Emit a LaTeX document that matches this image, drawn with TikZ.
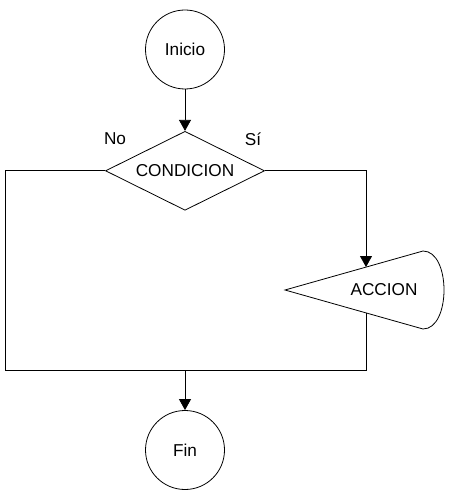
\documentclass[tikz,border=0pt]{standalone}
\usepackage{fontspec}
\setmainfont{Liberation Sans}
\usetikzlibrary{positioning, shapes.geometric, arrows.meta}

\begin{document}
\begin{tikzpicture}[x=1pt, y=-1pt, line width=0.8pt,
    every node/.style={font=\fontsize{17.2}{20}\selectfont},
    terminal/.style={circle, draw, minimum size=79pt, inner sep=0pt},
    decision/.style={diamond, draw, shape aspect=2, minimum width=159pt, minimum height=79pt, inner sep=0pt},
    arr/.style={-{Triangle[width=12pt, length=11pt]}}]
    \useasboundingbox (0,0) rectangle (454,494);
    % Circle: Inicio
    \node[terminal] (inicio) at (185,49.5) {Inicio};
    % Diamond: Condicion
    \node[decision, below=41.5pt of inicio] (cond) {CONDICION};
    \node (noLabel) at (115,139) {No};
    \node (siLabel) at (253,139) {Sí};
    % Action shape
    \draw (285,290) -- (423,251) .. controls (451,251) and (451,329) .. (423,329) -- cycle;
    \node (accion) at (384,290) {ACCION};
    \coordinate (accTop) at (366,267);
    \coordinate (accBot) at (366,313);
    % Circle: Fin
    \node[terminal] (fin) at (185,450) {Fin};
    % Corners
    \coordinate (cornerL) at (5,370);
    \coordinate (merge) at (185,370);
    % Arrows
    \draw[arr] (inicio) -- (cond);
    \draw[arr] (cond.east) -| (accTop);
    \draw (cond.west) -| (cornerL) -| (accBot);
    \draw[arr] (merge) -- (fin);
\end{tikzpicture}
\end{document}
